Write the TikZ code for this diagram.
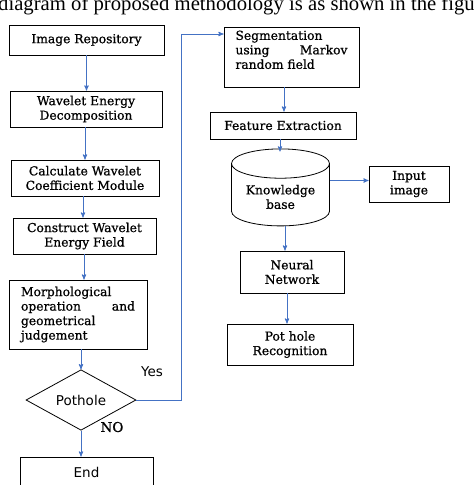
\documentclass[tikz,border=0pt]{standalone}
\usepackage{fontspec}
\setmainfont{DejaVu Serif}[RawFeature={embolden=0.8}]
\newfontfamily\headfont{Liberation Serif}
\newfontfamily\labfont{DejaVu Sans}
\usetikzlibrary{shapes.geometric,arrows}

\begin{document}
\begin{tikzpicture}[x=1pt,y=-1pt,>=stealth',
  box/.style={draw, line width=0.8pt, inner sep=2pt, align=center, font=\fontsize{12.3}{14.5}\selectfont},
  lab/.style={font=\labfont\fontsize{13.5}{15}\selectfont},
  flow/.style={->, draw={rgb,255:red,68;green,114;blue,196}, line width=0.9pt}]

  \useasboundingbox (0,0) rectangle (474,485);
  \clip (0,0) rectangle (474,485);

  % caption line cut at the top
  \node[anchor=base west, inner sep=0, font=\headfont\fontsize{20.7}{22}\selectfont] (head) at (-2,10.5)
    {diagram of proposed methodology is as shown in the figure};

  % left column
  \node[box, minimum width=155, minimum height=30] (repo) at (86.5,40) {Image Repository};
  \node[box, minimum width=152, minimum height=36] (wed) at (86,109) {Wavelet Energy\\Decomposition};
  \node[box, minimum width=148, minimum height=36] (cwc) at (85,178) {Calculate Wavelet\\Coefficient Module};
  \node[box, minimum width=143, minimum height=36] (cwe) at (84.5,236) {Construct Wavelet\\Energy Field};
  \node[box, minimum width=138, minimum height=69, align=left] (morph) at (78,314.5)
    {Morphological\\\hbox to 114pt{operation\hfill and}\\geometrical\\judgement};
  \node[draw, diamond, line width=0.8pt, inner sep=0, minimum width=110, minimum height=38, lab] (pot) at (81,400) {Pothole};
  \node[box, lab, minimum width=133, minimum height=30] (end) at (86.5,472) {End};

  % right column
  \node[box, minimum width=135, minimum height=60, align=left] (seg) at (291.5,57)
    {Segmentation\\\hbox to 112pt{using\hfill Markov}\\random field\\\mbox{}};
  \node[box, minimum width=146, minimum height=27] (feat) at (283,125.5) {Feature Extraction};
  \node[box, cylinder, shape border rotate=90, aspect=0.4, minimum width=98, minimum height=77] (kb) at (280.5,197) {Knowledge\\base};
  \node[box, minimum width=80, minimum height=36] (input) at (409,184) {Input\\image};
  \node[box, minimum width=104, minimum height=42] (nn) at (292,272) {Neural\\Network};
  \node[box, minimum width=126, minimum height=41] (phr) at (290,344.5) {Pot hole\\Recognition};

  \coordinate (turn) at (181,34);
  \coordinate (kin) at ([yshift=3.5pt]input.west);

  \node[lab] (yes) at (152,372) {Yes};
  \node[font=\fontsize{13.5}{15}\selectfont] (no) at (112,427) {NO};

  % connectors
  \draw[flow] (repo.south) -- (repo.south |- wed.north);
  \draw[flow] ([xshift=-1pt]wed.south) -- ([xshift=-1pt]wed.south |- cwc.north);
  \draw[flow] ([xshift=-2pt]cwc.south) -- ([xshift=-2pt]cwc.south |- cwe.north);
  \draw[flow] ([xshift=-0.5pt]cwe.south) -- ([xshift=-0.5pt]cwe.south |- morph.north);
  \draw[flow] (morph.south -| pot) -- (pot.north);
  \draw[flow] (pot.south) -- (pot.south |- end.north);
  \draw[flow] (pot.east) -| (turn) -- (turn -| seg.west);
  \draw[flow] ([xshift=-7.5pt]seg.south) -- ([xshift=-7.5pt]seg.south |- feat.north);
  \draw[flow] ([xshift=-3pt]feat.south) -- ([xshift=-3pt,yshift=-3pt]feat.south |- kb.north);
  \draw[flow] (kb.east |- kin) -- (kin);
  \draw[flow] ([xshift=4.5pt]kb.south) -- ([xshift=4.5pt]kb.south |- nn.north);
  \draw[flow] ([xshift=-5pt]nn.south) -- ([xshift=-5pt]nn.south |- phr.north);
\end{tikzpicture}
\end{document}
